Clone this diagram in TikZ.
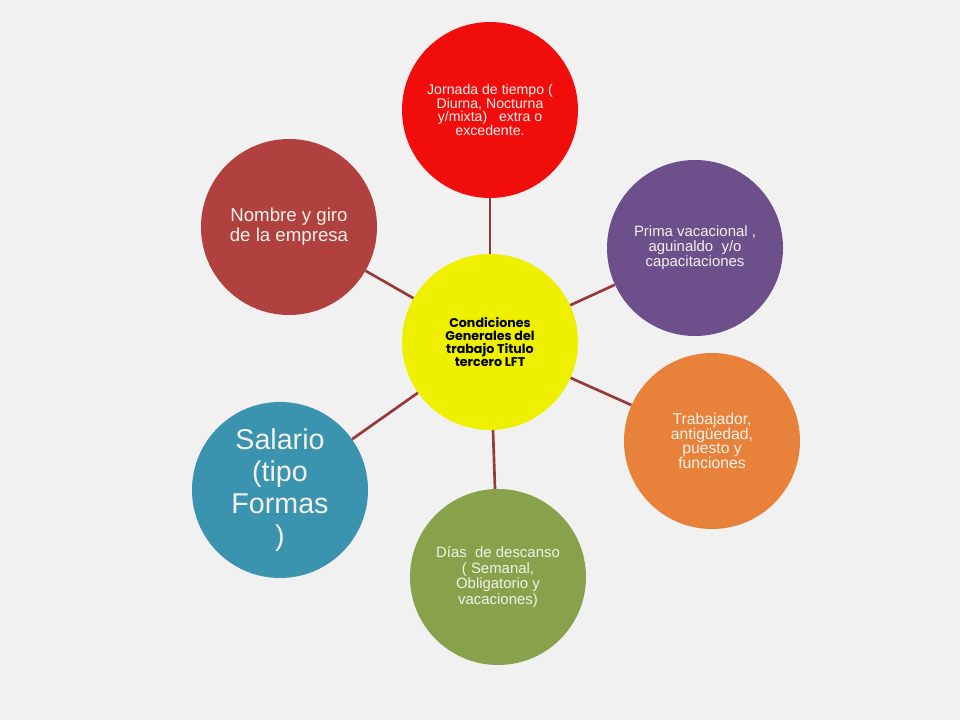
\documentclass[tikz,border=0pt]{standalone}
\usepackage{fontspec}
\setmainfont{Liberation Sans}
\newfontfamily\gothic{Poppins}
\definecolor{bgcol}{HTML}{F1F1F1}
\definecolor{lftyellow}{HTML}{EEF000}
\definecolor{jorred}{HTML}{F20D0D}
\definecolor{pripurple}{HTML}{6D4F8C}
\definecolor{traorange}{HTML}{E8813A}
\definecolor{diagreen}{HTML}{87A24A}
\definecolor{salteal}{HTML}{3A93AF}
\definecolor{nomred}{HTML}{B0413F}
\definecolor{linkred}{HTML}{96393A}
\definecolor{lighttext}{HTML}{F4F1EA}
\begin{document}
\begin{tikzpicture}[x=0.75pt, y=-0.75pt,
        topic/.style={circle, minimum size=132pt, inner sep=0pt, align=center, text=lighttext},
        link/.style={draw=linkred, line width=2pt}]
        \fill [bgcol] (0, 0) rectangle (960, 720);
        \useasboundingbox (0, 0) rectangle (960, 720);
        \node [topic, fill=lftyellow, text=black, font=\gothic\bfseries\fontsize{9.5}{9.8}\selectfont] (LFT) at (490, 342) {Condiciones\\Generales del\\trabajo Titulo\\tercero LFT};
        \node [topic, fill=jorred, font=\fontsize{10.6}{10.3}\selectfont] (JOR) at (490, 110) {Jornada de tiempo (\\Diurna, Nocturna\\y/mixta)\ \ \ extra o\\excedente.};
        \node [topic, fill=pripurple, font=\fontsize{11.2}{11.3}\selectfont] (PRI) at (695, 248) {Prima vacacional ,\\aguinaldo\ \ y/o\\capacitaciones};
        \node [topic, fill=traorange, font=\fontsize{11.8}{11}\selectfont] (TRA) at (712, 441) {Trabajador,\\antigüedad,\\puesto y\\funciones};
        \node [topic, fill=diagreen, font=\fontsize{11.2}{11.8}\selectfont] (DIA) at (498, 577) {Días\ \ de descanso\\( Semanal,\\Obligatorio y\\vacaciones)};
        \node [topic, fill=salteal, font=\fontsize{21.5}{24}\selectfont] (SAL) at (280, 490) {Salario\\(tipo\\Formas\\)};
        \node [topic, fill=nomred, font=\fontsize{14}{15}\selectfont] (NOM) at (289, 227) {Nombre y giro\\de la empresa};
        \path [link] (LFT) edge (JOR);
        \path [link] (LFT) edge (PRI);
        \path [link] (LFT) edge (TRA);
        \path [link] (LFT) edge (DIA);
        \path [link] (LFT) edge (SAL);
        \path [link] (LFT) edge (NOM);
    \end{tikzpicture}
\end{document}
